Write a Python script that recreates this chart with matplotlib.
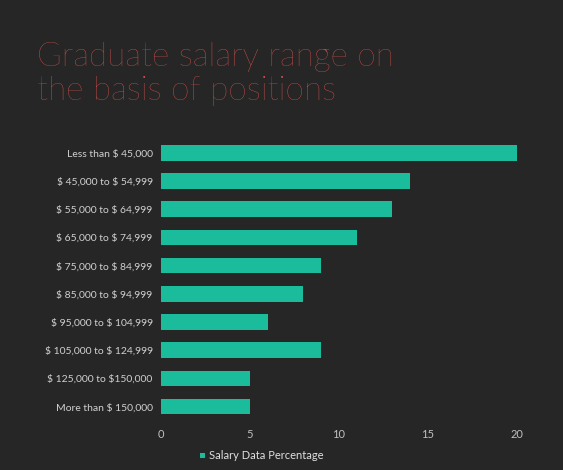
import matplotlib.pyplot as plt

plt.rcParams['text.parse_math'] = False

categories = ["Less than $ 45,000", "$ 45,000 to $ 54,999", "$ 55,000 to $ 64,999",
              "$ 65,000 to $ 74,999", "$ 75,000 to $ 84,999", "$ 85,000 to $ 94,999",
              "$ 95,000 to $ 104,999", "$ 105,000 to $ 124,999", "$ 125,000 to $150,000",
              "More than $ 150,000"]
values = [20, 14, 13, 11, 9, 8, 6, 9, 5, 5]
xticks = [0, 5, 10, 15, 20]

bg = "#262626"
teal = "#1abc9c"

fig = plt.figure(figsize=(5.63, 4.70), dpi=100, facecolor=bg)
ax = fig.add_axes([0.286, 0.105, 0.641, 0.6])
ax.set_facecolor(bg)

y = list(range(len(categories)))[::-1]
ax.barh(y, values, height=0.55, color=teal, label="Salary Data Percentage")
ax.set_yticks(y)
ax.set_yticklabels(categories, fontsize=7.5, color="#d0d0d0", family="Lato")
ax.set_xticks(xticks)
ax.set_xticklabels([str(t) for t in xticks], fontsize=8, color="#c0c0c0", family="Lato")
ax.set_xlim(0, 20.3)
ax.set_ylim(-0.5, len(categories) - 0.5)
ax.tick_params(length=0, pad=6)
for s in ax.spines.values():
    s.set_visible(False)

fig.text(0.065, 0.775, "Graduate salary range on\nthe basis of positions",
         fontsize=24, color="#e8574e", family="Lato", weight="light",
         linespacing=1.15, va="bottom")

leg = ax.legend(loc="upper center", bbox_to_anchor=(0.28, -0.07), frameon=False,
                handlelength=0.4, handleheight=0.4, handletextpad=0.4, fontsize=8)
for t in leg.get_texts():
    t.set_color("#e0e0e0")
    t.set_family("Lato")

fig.savefig("out.png", dpi=100, facecolor=bg)
